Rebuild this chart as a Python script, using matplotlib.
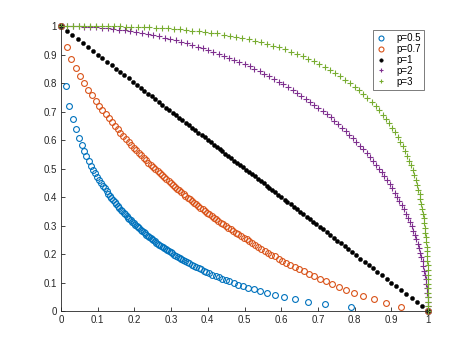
import matplotlib
matplotlib.use('Agg')
import matplotlib.pyplot as plt

plt.rcParams['font.family'] = ['Liberation Sans', 'DejaVu Sans']

# --- Data: points on |x|^p + |y|^p = 1, first quadrant ---
labels = ['p=0.5', 'p=0.7', 'p=1', 'p=2', 'p=3']

p05_x = [1.000, 0.789, 0.720, 0.674, 0.638, 0.608, 0.584, 0.562, 0.543, 0.526,
         0.510, 0.496, 0.483, 0.471, 0.459, 0.449, 0.439, 0.430, 0.421, 0.412,
         0.404, 0.396, 0.389, 0.382, 0.375, 0.369, 0.362, 0.356, 0.350, 0.344,
         0.339, 0.333, 0.328, 0.323, 0.318, 0.313, 0.308, 0.303, 0.299, 0.294,
         0.290, 0.285, 0.281, 0.277, 0.272, 0.268, 0.264, 0.260, 0.256, 0.252,
         0.248, 0.244, 0.240, 0.236, 0.232, 0.229, 0.225, 0.221, 0.217, 0.213,
         0.209, 0.206, 0.202, 0.198, 0.194, 0.190, 0.186, 0.183, 0.179, 0.175,
         0.171, 0.167, 0.163, 0.159, 0.154, 0.150, 0.146, 0.142, 0.137, 0.133,
         0.128, 0.124, 0.119, 0.114, 0.109, 0.104, 0.099, 0.093, 0.087, 0.082,
         0.076, 0.069, 0.063, 0.056, 0.048, 0.041, 0.032, 0.023, 0.013, 0.000]

p07_x = [1.000, 0.926, 0.885, 0.852, 0.824, 0.799, 0.777, 0.757, 0.738, 0.721,
         0.705, 0.690, 0.676, 0.662, 0.649, 0.637, 0.625, 0.614, 0.603, 0.593,
         0.583, 0.573, 0.564, 0.555, 0.546, 0.538, 0.529, 0.521, 0.513, 0.506,
         0.498, 0.491, 0.483, 0.476, 0.469, 0.462, 0.456, 0.449, 0.442, 0.436,
         0.429, 0.423, 0.417, 0.411, 0.404, 0.398, 0.392, 0.386, 0.380, 0.374,
         0.369, 0.363, 0.357, 0.351, 0.345, 0.339, 0.334, 0.328, 0.322, 0.316,
         0.310, 0.305, 0.299, 0.293, 0.287, 0.281, 0.275, 0.269, 0.263, 0.257,
         0.251, 0.244, 0.238, 0.232, 0.225, 0.219, 0.212, 0.205, 0.198, 0.192,
         0.184, 0.177, 0.170, 0.162, 0.155, 0.147, 0.139, 0.130, 0.122, 0.113,
         0.104, 0.094, 0.084, 0.074, 0.064, 0.052, 0.041, 0.028, 0.015, 0.000]

p1_x = [1.000, 0.984, 0.969, 0.955, 0.940, 0.926, 0.913, 0.900, 0.887, 0.874,
        0.862, 0.850, 0.838, 0.827, 0.816, 0.805, 0.794, 0.783, 0.773, 0.763,
        0.753, 0.743, 0.733, 0.724, 0.714, 0.705, 0.696, 0.686, 0.678, 0.669,
        0.660, 0.651, 0.643, 0.634, 0.626, 0.617, 0.609, 0.600, 0.592, 0.584,
        0.576, 0.568, 0.560, 0.552, 0.544, 0.536, 0.528, 0.520, 0.512, 0.504,
        0.496, 0.488, 0.480, 0.472, 0.464, 0.456, 0.448, 0.440, 0.432, 0.424,
        0.416, 0.408, 0.400, 0.391, 0.383, 0.374, 0.366, 0.357, 0.349, 0.340,
        0.331, 0.322, 0.314, 0.304, 0.295, 0.286, 0.276, 0.267, 0.257, 0.247,
        0.237, 0.227, 0.217, 0.206, 0.195, 0.184, 0.173, 0.162, 0.150, 0.138,
        0.126, 0.113, 0.100, 0.087, 0.074, 0.060, 0.045, 0.031, 0.016, 0.000]

p2_x = [1.000, 1.000, 1.000, 0.999, 0.998, 0.997, 0.995, 0.994, 0.992, 0.990,
        0.987, 0.985, 0.982, 0.979, 0.975, 0.972, 0.968, 0.964, 0.959, 0.955,
        0.950, 0.945, 0.940, 0.934, 0.928, 0.922, 0.916, 0.910, 0.903, 0.896,
        0.889, 0.881, 0.874, 0.866, 0.858, 0.850, 0.841, 0.833, 0.824, 0.815,
        0.805, 0.796, 0.786, 0.776, 0.766, 0.756, 0.745, 0.735, 0.724, 0.713,
        0.701, 0.690, 0.679, 0.667, 0.655, 0.643, 0.631, 0.618, 0.606, 0.593,
        0.580, 0.567, 0.554, 0.541, 0.527, 0.514, 0.500, 0.486, 0.472, 0.458,
        0.444, 0.430, 0.415, 0.401, 0.386, 0.372, 0.357, 0.342, 0.327, 0.312,
        0.297, 0.282, 0.266, 0.251, 0.236, 0.220, 0.205, 0.189, 0.174, 0.158,
        0.142, 0.127, 0.111, 0.095, 0.079, 0.063, 0.048, 0.032, 0.016, 0.000]

p3_x = [1.000, 1.000, 1.000, 1.000, 1.000, 1.000, 1.000, 1.000, 0.999, 0.999,
        0.999, 0.998, 0.998, 0.997, 0.996, 0.995, 0.994, 0.993, 0.992, 0.990,
        0.988, 0.987, 0.984, 0.982, 0.979, 0.977, 0.974, 0.970, 0.966, 0.962,
        0.958, 0.953, 0.948, 0.943, 0.937, 0.931, 0.925, 0.918, 0.910, 0.902,
        0.894, 0.885, 0.876, 0.867, 0.857, 0.846, 0.835, 0.824, 0.812, 0.800,
        0.787, 0.774, 0.761, 0.747, 0.733, 0.719, 0.704, 0.689, 0.674, 0.658,
        0.643, 0.627, 0.610, 0.594, 0.578, 0.561, 0.544, 0.528, 0.511, 0.494,
        0.477, 0.460, 0.443, 0.426, 0.409, 0.392, 0.375, 0.358, 0.341, 0.325,
        0.308, 0.291, 0.275, 0.258, 0.241, 0.225, 0.209, 0.192, 0.176, 0.160,
        0.144, 0.128, 0.111, 0.095, 0.079, 0.064, 0.048, 0.032, 0.016, 0.000]

# curves are symmetric about y = x, so y is the x list read backwards
p05_y = p05_x[::-1]
p07_y = p07_x[::-1]
p1_y = p1_x[::-1]
p2_y = p2_x[::-1]
p3_y = p3_x[::-1]

ticks = [0, 0.1, 0.2, 0.3, 0.4, 0.5, 0.6, 0.7, 0.8, 0.9, 1]
tick_labels = ['0', '0.1', '0.2', '0.3', '0.4', '0.5', '0.6', '0.7', '0.8', '0.9', '1']

# --- Plot ---
fig = plt.figure(figsize=(4.74, 3.5), dpi=100)
ax = fig.add_axes([0.1287, 0.1114, 0.7743, 0.8143])

ax.plot(p05_x, p05_y, 'o', ms=4.2, mfc='none', mec='#0072BD', mew=0.8,
        label=labels[0], clip_on=False)
ax.plot(p07_x, p07_y, 'o', ms=4.2, mfc='none', mec='#D95319', mew=0.8,
        label=labels[1], clip_on=False)
ax.plot(p1_x, p1_y, 'o', ms=3.0, mfc='black', mec='black', mew=0.3,
        label=labels[2], clip_on=False)
ax.plot(p2_x, p2_y, '+', ms=4.2, mec='#7E2F8E', mew=0.8,
        label=labels[3], clip_on=False)
ax.plot(p3_x, p3_y, '+', ms=4.2, mec='#77AC30', mew=0.8,
        label=labels[4], clip_on=False)

ax.set_xlim(0, 1)
ax.set_ylim(0, 1)
ax.set_xticks(ticks)
ax.set_xticklabels(tick_labels)
ax.set_yticks(ticks)
ax.set_yticklabels(tick_labels)

for side in ['top', 'right']:
    ax.spines[side].set_visible(False)
for side in ['left', 'bottom']:
    ax.spines[side].set_color('#262626')
    ax.spines[side].set_linewidth(0.6)

ax.tick_params(direction='in', length=3, width=0.6, colors='#262626',
               labelsize=7, pad=3)

leg = ax.legend(loc='upper right', bbox_to_anchor=(0.989, 0.986), fontsize=7,
                frameon=True, fancybox=False, edgecolor='#404040',
                handlelength=1.0, handletextpad=1.0, labelspacing=0.08,
                borderpad=0.35, borderaxespad=0, markerscale=0.85)
leg.get_frame().set_linewidth(0.6)

fig.savefig('out.png', dpi=100)
